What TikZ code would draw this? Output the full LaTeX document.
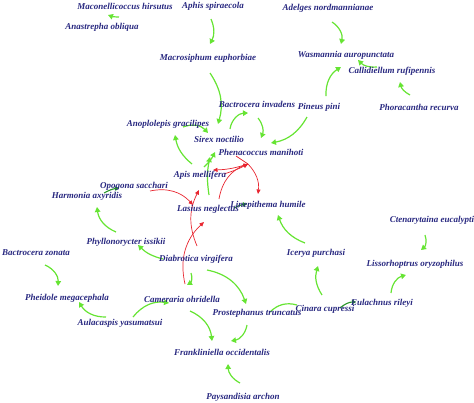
\documentclass[tikz,border=0pt]{standalone}
\usepackage{fontspec}
\setmainfont{Liberation Serif}
\usetikzlibrary{arrows.meta}
\definecolor{navy}{RGB}{40,40,128}
\definecolor{egreen}{RGB}{102,228,51}
\definecolor{dgreen}{RGB}{40,150,40}
\definecolor{ered}{RGB}{232,38,48}
\tikzset{
  lbl/.style={font=\fontsize{9}{10}\selectfont\bfseries\itshape, text=navy, inner sep=0pt, anchor=center},
  gedge/.style={draw=egreen, line width=1.2pt, -{Triangle[length=5pt,width=5.5pt]}},
  gline/.style={draw=egreen, line width=1.2pt},
  dedge/.style={draw=dgreen, line width=1.1pt, -{Triangle[length=4pt,width=4.5pt]}},
  redge/.style={draw=ered, line width=0.7pt, -{Triangle[length=4.5pt,width=4pt]}},
  rline/.style={draw=ered, line width=0.7pt},
}
\begin{document}
\begin{tikzpicture}[x=1pt,y=-1pt]
\useasboundingbox (0,0) rectangle (474,402);
% ---------- edge end points ----------
\coordinate (g1s) at (119,17);  \coordinate (g1e) at (108,15);
\coordinate (g2s) at (211,19);  \coordinate (g2e) at (210,44);
\coordinate (g3s) at (210,73);  \coordinate (g3e) at (218,124);
\coordinate (g4s) at (332,22);  \coordinate (g4e) at (341,44);
\coordinate (g5s) at (377,67);  \coordinate (g5e) at (358,60);
\coordinate (g6s) at (326,96);  \coordinate (g6e) at (341,67);
\coordinate (g7s) at (410,95);  \coordinate (g7e) at (400,82);
\coordinate (g8s) at (230,129); \coordinate (g8e) at (248,113);
\coordinate (g9s) at (258,118); \coordinate (g9e) at (261,138);
\coordinate (g10s) at (307,117); \coordinate (g10e) at (271,143);
\coordinate (g11s) at (183,127); \coordinate (g11e) at (208,133);
\coordinate (g12s) at (192,164); \coordinate (g12e) at (175,135);
\coordinate (g13s) at (209,195); \coordinate (g13e) at (210,157);
\coordinate (g14s) at (204,167); \coordinate (g14e) at (215,152);
\coordinate (g15s) at (104,193); \coordinate (g15e) at (119,188);
\coordinate (g16s) at (116,232); \coordinate (g16e) at (97,207);
\coordinate (g17s) at (163,259); \coordinate (g17e) at (138,245);
\coordinate (g18s) at (45,265);  \coordinate (g18e) at (58,286);
\coordinate (g19s) at (106,317); \coordinate (g19e) at (79,302);
\coordinate (g20s) at (133,317); \coordinate (g20e) at (169,303);
\coordinate (g21s) at (190,311); \coordinate (g21e) at (212,341);
\coordinate (g22s) at (191,273); \coordinate (g22e) at (187,285);
\coordinate (g23s) at (207,270); \coordinate (g23e) at (246,304);
\coordinate (g24s) at (247,325); \coordinate (g24e) at (231,341);
\coordinate (g25s) at (240,383); \coordinate (g25e) at (228,364);
\coordinate (g26s) at (297,305); \coordinate (g26e) at (270,312);
\coordinate (g27s) at (322,295); \coordinate (g27e) at (318,266);
\coordinate (g28s) at (340,308); \coordinate (g28e) at (356,302);
\coordinate (g29s) at (391,293); \coordinate (g29e) at (406,275);
\coordinate (g30s) at (425,235); \coordinate (g30e) at (421,250);
\coordinate (g31s) at (305,243); \coordinate (g31e) at (278,215);
\coordinate (g32s) at (234,208); \coordinate (g32e) at (247,204);
\coordinate (rph) at (248,164);
\coordinate (r1s) at (150,191); \coordinate (r1e) at (193,205);
\coordinate (r2s) at (197,246); \coordinate (r2e) at (199,190);
\coordinate (r3s) at (185,284); \coordinate (r3e) at (204,222);
\coordinate (r4s) at (219,199);
\coordinate (r5e) at (213,170);
\coordinate (r6s) at (224,174);
\coordinate (r7e) at (258,194);
\coordinate (r8s) at (236,156);
% ---------- green edges ----------
\draw[gedge] (g1s) to[bend left=10] (g1e);
\draw[gedge] (g2s) to[bend left=25] (g2e);
\draw[gedge] (g3s) to[bend left=25] (g3e);
\draw[gedge] (g4s) to[bend left=35] (g4e);
\draw[gedge] (g5s) to[bend left=25] (g5e);
\draw[gedge] (g6s) to[bend left=30] (g6e);
\draw[gedge] (g7s) to[bend left=25] (g7e);
\draw[gedge] (g8s) to[bend left=40] (g8e);
\draw[gedge] (g9s) to[bend left=30] (g9e);
\draw[gedge] (g10s) to[bend left=25] (g10e);
\draw[gedge] (g11s) to[bend left=35] (g11e);
\draw[gedge] (g12s) to[bend left=20] (g12e);
\draw[gedge] (g13s) to[bend left=10] (g13e);
\draw[gedge] (g14s) to[bend right=10] (g14e);
\draw[dedge] (g15s) to[bend left=10] (g15e);
\draw[gedge] (g16s) to[bend left=30] (g16e);
\draw[gedge] (g17s) to[bend left=15] (g17e);
\draw[gedge] (g18s) to[bend left=35] (g18e);
\draw[gedge] (g19s) to[bend left=30] (g19e);
\draw[gedge] (g20s) to[bend left=30] (g20e);
\draw[gedge] (g21s) to[bend left=30] (g21e);
\draw[gedge] (g22s) to[bend left=40] (g22e);
\draw[gedge] (g23s) to[bend left=30] (g23e);
\draw[gedge] (g24s) to[bend left=35] (g24e);
\draw[gedge] (g25s) to[bend left=30] (g25e);
\draw[gline] (g26s) to[bend right=30] (g26e);
\draw[gedge] (g27s) to[bend left=25] (g27e);
\draw[dedge] (g28s) to[bend left=20] (g28e);
\draw[gedge] (g29s) to[bend left=35] (g29e);
\draw[gedge] (g30s) to[bend left=35] (g30e);
\draw[gedge] (g31s) to[bend left=25] (g31e);
\draw[dedge] (g32s) to[bend left=10] (g32e);
% ---------- red edges ----------
\draw[redge] (r1s) to[bend left=30] (r1e);
\draw[redge] (r2s) to[bend left=25] (r2e);
\draw[redge] (r3s) to[bend left=30] (r3e);
\draw[redge] (r4s) to[bend left=30] (rph);
\draw[redge] (rph) to[bend left=8] (r5e);
\draw[redge] (r6s) to[bend right=5] (rph);
\draw[redge] (rph) to[bend left=25] (r7e);
\draw[rline] (r8s) -- (rph);
% ---------- labels ----------
\node[lbl] (macon) at (125,6) {Maconellicoccus hirsutus};
\node[lbl] (aphis) at (213,6) {Aphis spiraecola};
\node[lbl] (adel) at (328,8) {Adelges nordmannianae};
\node[lbl] (anast) at (102,27) {Anastrepha obliqua};
\node[lbl] (macro) at (208,58) {Macrosiphum euphorbiae};
\node[lbl] (wasm) at (346,55) {Wasmannia auropunctata};
\node[lbl] (calli) at (392,71) {Callidiellum rufipennis};
\node[lbl] (bacinv) at (257,104) {Bactrocera invadens};
\node[lbl] (pineus) at (319,107) {Pineus pini};
\node[lbl] (phora) at (419,107) {Phoracantha recurva};
\node[lbl] (anopl) at (168,124) {Anoplolepis gracilipes};
\node[lbl] (sirex) at (219,139) {Sirex noctilio};
\node[lbl] (phen) at (261,152) {Phenacoccus manihoti};
\node[lbl] (apis) at (200,175) {Apis mellifera};
\node[lbl] (opog) at (134,186) {Opogona sacchari};
\node[lbl] (harm) at (87,196) {Harmonia axyridis};
\node[lbl] (lasius) at (208,209) {Lasius neglectus};
\node[lbl] (linep) at (268,205) {Linepithema humile};
\node[lbl] (cten) at (432,220) {Ctenarytaina eucalypti};
\node[lbl] (phyll) at (126,242) {Phyllonorycter issikii};
\node[lbl] (diab) at (196,259) {Diabrotica virgifera};
\node[lbl] (icer) at (316,253) {Icerya purchasi};
\node[lbl] (lisso) at (415,264) {Lissorhoptrus oryzophilus};
\node[lbl] (baczon) at (36,253) {Bactrocera zonata};
\node[lbl] (pheid) at (67,298) {Pheidole megacephala};
\node[lbl] (camer) at (182,299) {Cameraria ohridella};
\node[lbl] (aulac) at (120,323) {Aulacaspis yasumatsui};
\node[lbl] (prost) at (257,313) {Prostephanus truncatus};
\node[lbl] (cinara) at (325,309) {Cinara cupressi};
\node[lbl] (eulach) at (382,303) {Eulachnus rileyi};
\node[lbl] (frank) at (222,352) {Frankliniella occidentalis};
\node[lbl] (paysa) at (243,397) {Paysandisia archon};
\end{tikzpicture}
\end{document}
